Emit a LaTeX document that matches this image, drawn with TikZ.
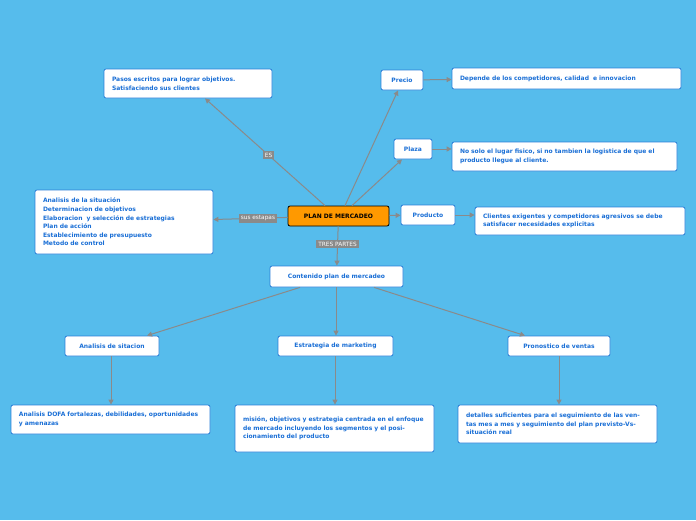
\documentclass[tikz,border=0pt]{standalone}
\usepackage{fontspec}
\setmainfont{DejaVu Sans}
\usetikzlibrary{arrows.meta}
\definecolor{bg}{HTML}{56BCEC}
\definecolor{txt}{HTML}{1A6FD6}
\definecolor{edge}{HTML}{2A7FD8}
\definecolor{conn}{HTML}{8A8A8A}
\definecolor{org}{HTML}{FF9900}
\tikzset{
 bx/.style={draw=edge,line width=0.8pt,fill=white,rounded corners=2pt,inner sep=0pt,font=\fontsize{6}{8.6}\selectfont\bfseries,text=txt},
 cn/.style={draw=conn,line width=1pt,-{Triangle[length=5pt,width=5pt]}},
 lbl/.style={fill=conn,text=white,inner sep=2pt,font=\fontsize{5.8}{7}\selectfont}
}
\newcommand{\bxc}[6]{\node[bx,minimum width=#4pt-#2pt,minimum height=#5pt-#3pt] (#1) at ({(#2+#4)/2},{(#3+#5)/2}) {#6};}
\newcommand{\bxl}[6]{\node[bx,minimum width=#4pt-#2pt,minimum height=#5pt-#3pt,text width=#4pt-#2pt-16pt,align=left] (#1) at ({(#2+#4)/2},{(#3+#5)/2}) {#6};}
\begin{document}
\begin{tikzpicture}[x=1pt,y=-1pt]
\fill[bg] (0,0) rectangle (696,520);
\useasboundingbox (0,0) rectangle (696,520);
\node[bx,draw=black,fill=org,text=black,minimum width=101pt,minimum height=20pt] (plan) at (338.5,216) {PLAN DE MERCADEO};
\bxl{pasos}{104}{69}{272}{98}{Pasos escritos para lograr objetivos.\\Satisfaciendo sus clientes}
\bxc{precio}{381}{70}{423}{90}{Precio}
\bxl{depende}{452}{68}{681}{89}{Depende de los competidores, calidad~ e innovacion}
\bxc{plaza}{394}{139}{432}{159}{Plaza}
\bxl{nosolo}{452}{142}{677}{171}{No solo el lugar fisico, si no tambien la logistica de que el producto llegue al cliente.}
\bxc{producto}{401}{205}{455}{225}{Producto}
\bxl{clientes}{475}{207}{685}{235}{Clientes exigentes y competidores agresivos se debe satisfacer necesidades explicitas}
\bxl{lista}{35}{190}{213}{254}{Analisis de la situación\\Determinacion de objetivos\\Elaboracion~ y selección de estrategias\\Plan de acción\\Establecimiento de presupuesto\\Metodo de control}
\bxc{contenido}{270}{266}{403}{287}{Contenido plan de mercadeo}
\bxc{sitacion}{65}{336}{159}{356}{Analisis de sitacion}
\bxc{estrategia}{278}{336}{393}{356}{Estrategia de marketing}
\bxc{pronostico}{508}{336}{610}{356}{Pronostico de ventas}
\bxl{dofa}{11}{405}{210}{434}{Analisis DOFA fortalezas, debilidades, oportunidades y amenazas}
\bxl{mision}{235}{405}{434}{452}{misión, objetivos y estrategia centrada en el enfoque de mercado incluyendo los segmentos y el posicionamiento del producto}
\bxl{detalles}{458}{405}{657}{443}{detalles suficientes para el seguimiento de las ventas mes a mes y seguimiento del plan previsto-Vs-situación real}
\draw[cn] (plan.north -| 325,0) -- node[lbl,pos=0.47]{ES} (pasos.south -| 205,0);
\draw[cn] (plan.north -| 345,0) -- (precio.south -| 398,0);
\draw[cn] (plan.north -| 352,0) -- (plaza.south -| 402,0);
\draw[cn] (plan) -- (producto);
\draw[cn] (plan) -- node[lbl,pos=0.4]{sus estapas} (lista);
\draw[cn] (plan) -- node[lbl,pos=0.45]{TRES PARTES} (contenido);
\draw[cn] (precio) -- (depende);
\draw[cn] (plaza) -- (nosolo.west |- plaza);
\draw[cn] (producto) -- (clientes.west |- producto);
\draw[cn] (contenido.south -| 300,0) -- (sitacion.north -| 147,0);
\draw[cn] (contenido.south -| 336,0) -- (estrategia.north -| 336,0);
\draw[cn] (contenido.south -| 374,0) -- (pronostico.north -| 525,0);
\draw[cn] (sitacion.south -| 111,0) -- (dofa.north -| 111,0);
\draw[cn] (estrategia.south -| 335,0) -- (mision.north -| 335,0);
\draw[cn] (pronostico.south -| 559,0) -- (detalles.north -| 559,0);
\end{tikzpicture}
\end{document}
